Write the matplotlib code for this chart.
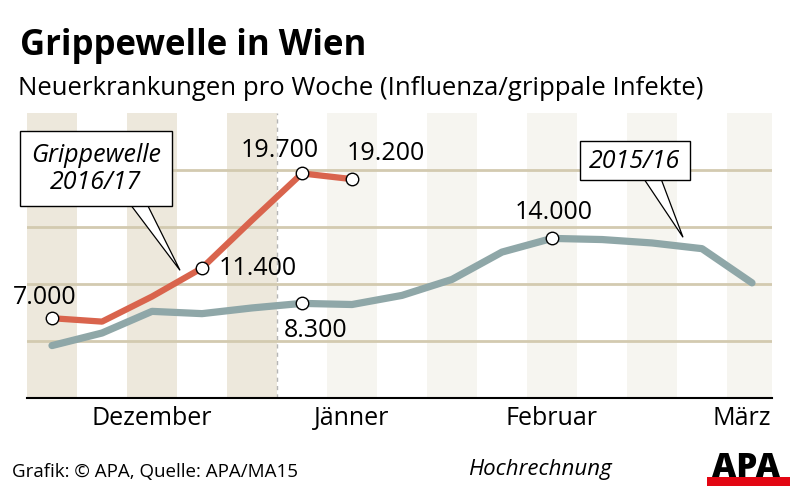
import numpy as np
import matplotlib
matplotlib.use("Agg")
import matplotlib.pyplot as plt
from matplotlib.patches import Rectangle, Polygon

plt.rcParams['font.family'] = ['Open Sans', 'DejaVu Sans']

# Daten (Neuerkrankungen pro Woche)
wochen_1516 = list(range(15))
werte_1516 = [4600, 5700, 7600, 7400, 7900, 8300, 8200, 9000, 10400, 12800, 14000, 13900, 13600, 13100, 10100]
wochen_1617 = list(range(7))
werte_1617 = [7000, 6700, 8900, 11400, 15600, 19700, 19200]

# beschriftete Punkte: woche -> text
labels_1617 = {0: "7.000", 3: "11.400", 5: "19.700", 6: "19.200"}
labels_1516 = {5: "8.300", 10: "14.000"}

monate = ["Dezember", "Jänner", "Februar", "März"]
monat_pos = [2, 6, 10, 13.8]

rot = "#d9644d"
grau = "#8fa7a8"
gitter = "#d3cab0"

fig = plt.figure(figsize=(8, 5), dpi=100)

def px(x, y):
    return (x / 800, 1 - y / 500)

ax = fig.add_axes([27 / 800, 102 / 500, 745 / 800, 285 / 500])
ax.set_xlim(-0.5, 14.4)
ax.set_ylim(0, 25000)

# Streifen
for w in range(0, 15, 2):
    farbe = "#ede8dc" if w < 5 else "#f6f5f0"
    ax.axvspan(w - 0.5, w + 0.5, color=farbe, lw=0, zorder=0)
ax.axvline(4.5, color="#b5b5b5", lw=1, ls=(0, (3, 3)), zorder=1)

for y in [5000, 10000, 15000, 20000]:
    ax.axhline(y, color=gitter, lw=2, zorder=1)

ax.plot(wochen_1516, werte_1516, color=grau, lw=5.2, solid_capstyle="round", solid_joinstyle="round", zorder=3)
ax.plot(wochen_1617, werte_1617, color=rot, lw=4.5, solid_capstyle="round", solid_joinstyle="round", zorder=4)

for w in labels_1617:
    ax.plot(w, werte_1617[w], "o", ms=9, mfc="white", mec="black", mew=1, zorder=5)
for w in labels_1516:
    ax.plot(w, werte_1516[w], "o", ms=9, mfc="white", mec="black", mew=1, zorder=5)

fs = 18
def lab(text, x, y, dx, dy, ha="center"):
    ax.annotate(text, (x, y), xytext=(dx, dy), textcoords="offset points", ha=ha, va="center", fontsize=fs)

lab(labels_1617[0], 0, werte_1617[0], -5, 15)
lab(labels_1617[3], 3, werte_1617[3], 12, 0, ha="left")
lab(labels_1617[5], 5, werte_1617[5], -16, 16.5)
lab(labels_1617[6], 6, werte_1617[6], 24.5, 18.5)
lab(labels_1516[5], 5, werte_1516[5], 9.5, -19.5)
lab(labels_1516[10], 10, werte_1516[10], 1.5, 19)

for spine in ["top", "right", "left"]:
    ax.spines[spine].set_visible(False)
ax.spines["bottom"].set_linewidth(1.5)
ax.set_xticks([])
ax.set_yticks([])

for m, p in zip(monate, monat_pos):
    ax.text(p, -1800, m, ha="center", va="center", fontsize=fs)

# Callouts
fig.canvas.draw()
inv = fig.transFigure.inverted()

def tip(x, y):
    return inv.transform(ax.transData.transform((x, y)))

t1 = tip(2.56, 11200)
fig.patches.append(Polygon([px(127, 200), px(145, 200), t1], closed=True, fc="white", ec="black", lw=0.9,
                           transform=fig.transFigure, zorder=6))
fig.patches.append(Rectangle(px(20, 206), 152 / 800, 75 / 500, fc="white", ec="black", lw=1.0,
                             transform=fig.transFigure, zorder=7))
fig.text(96 / 800, 1 - 169 / 500, "Grippewelle\n2016/17", ha="center", va="center", style="italic",
         fontsize=18, linespacing=1.1, zorder=8)

t2 = tip(12.62, 14100)
fig.patches.append(Polygon([px(642, 176), px(660, 176), t2], closed=True, fc="white", ec="black", lw=0.9,
                           transform=fig.transFigure, zorder=6))
fig.patches.append(Rectangle(px(580, 180), 110 / 800, 39 / 500, fc="white", ec="black", lw=1.0,
                             transform=fig.transFigure, zorder=7))
fig.text(635 / 800, 1 - 161 / 500, "2015/16", ha="center", va="center", style="italic", fontsize=18, zorder=8)

# Titel
fig.text(20 / 800, 1 - 55 / 500, "Grippewelle in Wien", fontsize=25, fontweight="bold", va="baseline")
fig.text(18 / 800, 1 - 95 / 500, "Neuerkrankungen pro Woche (Influenza/grippale Infekte)", fontsize=18.5, va="baseline")

# Fußzeile
fig.text(12 / 800, 1 - 472 / 500, "Grafik: © APA, Quelle: APA/MA15", fontsize=13.5, va="center")
fig.text(540 / 800, 1 - 470 / 500, "Hochrechnung", fontsize=16, style="italic", ha="center", va="center")
fig.patches.append(Rectangle(px(707, 486), 83 / 800, 9 / 500, fc="#e30613", ec="none", transform=fig.transFigure))
fig.text(746 / 800, 1 - 477 / 500, "APA", fontsize=24, fontweight="black", ha="center", va="baseline")

fig.savefig("out.png", dpi=100)
